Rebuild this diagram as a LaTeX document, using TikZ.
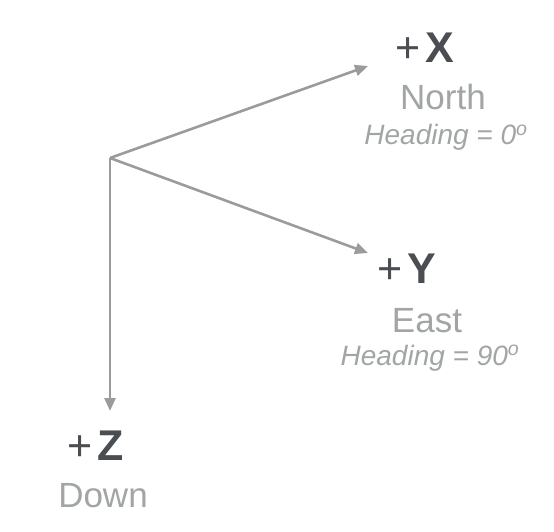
\documentclass[tikz,border=0pt]{standalone}
\usepackage{fontspec}
\setmainfont{Liberation Sans}
\usetikzlibrary{arrows.meta}
\definecolor{axisgray}{HTML}{9A9C9C}
\definecolor{labelgray}{HTML}{A2A5A5}
\definecolor{darkaxis}{HTML}{4A4D52}
\tikzset{
  axisarrow/.style={draw=axisgray, line width=2.6pt, -{Triangle[length=13pt,width=11pt]}},
  axisname/.style={anchor=base, inner sep=0pt, text=darkaxis, font=\fontsize{43}{43}\selectfont},
  dirname/.style={anchor=base, inner sep=0pt, text=labelgray, font=\fontsize{35}{35}\selectfont},
  headname/.style={anchor=base, inner sep=0pt, text=labelgray, font=\fontsize{28}{28}\selectfont\itshape}
}
\begin{document}
\begin{tikzpicture}[x=1pt,y=-1pt]
\useasboundingbox (0,0) rectangle (554,532);
\coordinate (o) at (110,158);
\coordinate (xa) at (368,66);
\coordinate (ya) at (368,253);
\coordinate (za) at (110,411);
\draw[axisarrow] (o) -- (xa);
\draw[axisarrow] (o) -- (ya);
\draw[axisarrow] (o) -- (za);
\node[axisname] (xl) at (425,63) {+\hspace{5pt}\textbf{X}};
\node[dirname] (xn) at (443,110) {North};
\node[headname] (xh) at (446,145) {Heading = 0\textsuperscript{o}};
\node[axisname] (yl) at (407,283) {+\hspace{5pt}\textbf{Y}};
\node[dirname] (yn) at (427,332) {East};
\node[headname] (yh) at (430,365) {Heading = 90\textsuperscript{o}};
\node[axisname] (zl) at (96,460) {+\hspace{5pt}\textbf{Z}};
\node[dirname] (zn) at (103,507) {Down};
\end{tikzpicture}
\end{document}
